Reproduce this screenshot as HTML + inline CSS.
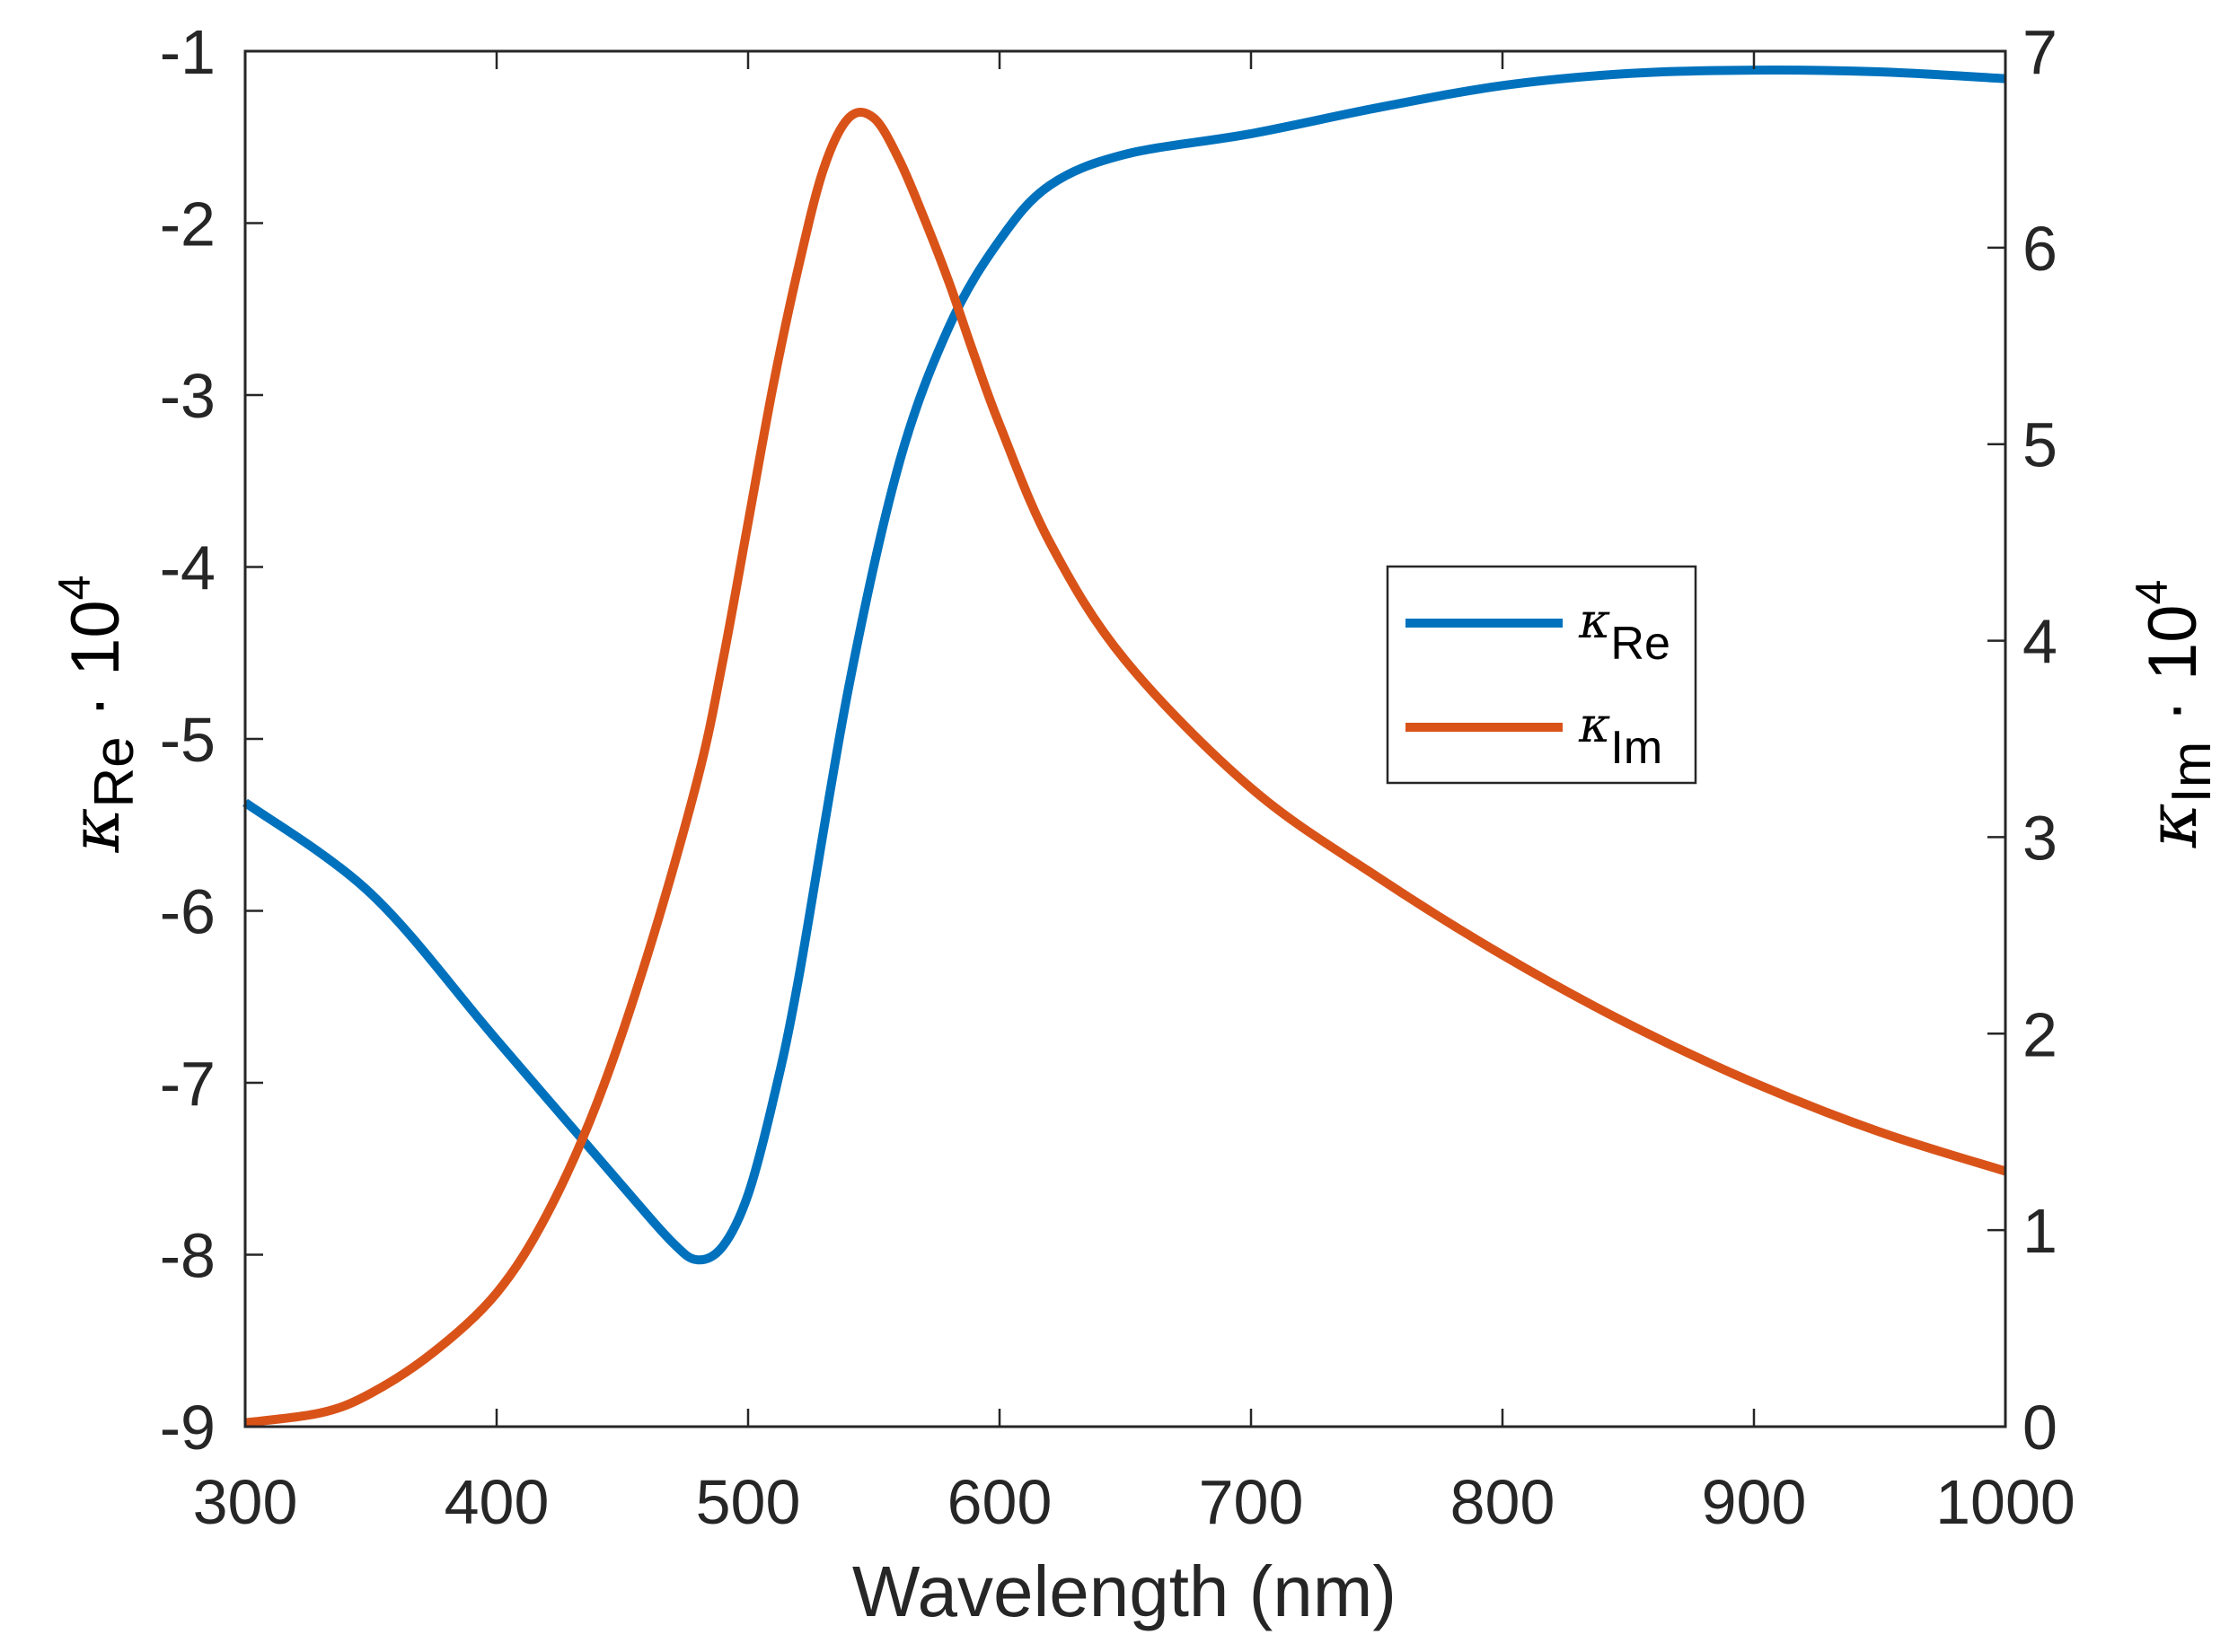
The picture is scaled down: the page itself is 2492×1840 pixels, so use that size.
<!DOCTYPE html>
<html><head><meta charset="utf-8"><style>
html,body{margin:0;padding:0;background:#fff;}
svg{display:block;font-family:"Liberation Sans",sans-serif;}
</style></head><body>
<svg id="s" width="2492" height="1840" xmlns="http://www.w3.org/2000/svg">
<rect width="2492" height="1840" fill="#fff"/>
<g id="curves"></g>
<rect x="273" y="57" width="1960" height="1532" fill="none" stroke="#262626" stroke-width="3"/>
<g id="ticks" stroke="#262626" stroke-width="2.5"></g>
<g id="labels" fill="#262626" font-size="70"></g>
<text x="1252" y="1800" font-size="80" text-anchor="middle" fill="#262626">Wavelength (nm)</text>
<text transform="translate(132,795) rotate(-90)" font-size="76" text-anchor="middle" fill="#000"><tspan font-style="italic" font-family="DejaVu Serif,serif">κ</tspan><tspan font-size="62" dy="16">Re</tspan><tspan dy="-16"> · 10</tspan><tspan font-size="50" dy="-32">4</tspan></text>
<text transform="translate(2445,795) rotate(-90)" font-size="76" text-anchor="middle" fill="#000"><tspan font-style="italic" font-family="DejaVu Serif,serif">κ</tspan><tspan font-size="62" dy="16">Im</tspan><tspan dy="-16"> · 10</tspan><tspan font-size="50" dy="-32">4</tspan></text>
<rect x="1545" y="631" width="343" height="241" fill="#fff" stroke="#262626" stroke-width="2.5"/>
<line x1="1565" y1="694" x2="1740" y2="694" stroke="#0072BD" stroke-width="10"/>
<line x1="1565" y1="810" x2="1740" y2="810" stroke="#D95319" stroke-width="10"/>
<text x="1758" y="710" font-size="54" fill="#000"><tspan font-style="italic" font-family="DejaVu Serif,serif">κ</tspan><tspan font-size="52" dy="24">Re</tspan></text>
<text x="1758" y="826" font-size="54" fill="#000"><tspan font-style="italic" font-family="DejaVu Serif,serif">κ</tspan><tspan font-size="52" dy="24">Im</tspan></text>
</svg>
<script>
var L=273,R=2233,T=57,B=1589;
function X(w){return L+(w-300)/700*(R-L);}
function YL(v){return T+(-1-v)*(B-T)/8;}
function YR(v){return B-v*(B-T)/7;}
var NS="http://www.w3.org/2000/svg";
function el(p,n,a,t){var e=document.createElementNS(NS,n);for(var k in a)e.setAttribute(k,a[k]);if(t!==undefined)e.textContent=t;p.appendChild(e);return e;}
var tk=document.getElementById('ticks'),lb=document.getElementById('labels');
for(var w=300;w<=1000;w+=100){var x=X(w);el(tk,'line',{x1:x,y1:B,x2:x,y2:B-20});el(tk,'line',{x1:x,y1:T,x2:x,y2:T+20});el(lb,'text',{x:x,y:1697,'text-anchor':'middle'},w);}
for(var v=-9;v<=-1;v++){var y=YL(v);el(tk,'line',{x1:L,y1:y,x2:L+20,y2:y});el(lb,'text',{x:240,y:y+25,'text-anchor':'end'},v);}
for(var v=0;v<=7;v++){var y=YR(v);el(tk,'line',{x1:R,y1:y,x2:R-20,y2:y});el(lb,'text',{x:2252,y:y+25,'text-anchor':'start'},v);}
function path(d,fy){var p=d.map(function(a){return [X(a[0]),fy(a[1])];});var s='M'+p[0][0]+','+p[0][1];
for(var i=0;i<p.length-1;i++){var p0=p[i-1]||p[i],p1=p[i],p2=p[i+1],p3=p[i+2]||p2;
s+=' C'+(p1[0]+(p2[0]-p0[0])/6)+','+(p1[1]+(p2[1]-p0[1])/6)+' '+(p2[0]-(p3[0]-p1[0])/6)+','+(p2[1]-(p3[1]-p1[1])/6)+' '+p2[0]+','+p2[1];}return s;}
var blue=[[300,-5.37],[350,-5.9],[400,-6.75],[450,-7.6],[470,-7.93],[480,-8.03],[490,-7.95],[500,-7.65],[510,-7.1],[520,-6.4],[540,-4.7],[560,-3.4],[580,-2.6],[600,-2.1],[620,-1.78],[650,-1.6],[700,-1.48],[750,-1.33],[800,-1.2],[850,-1.13],[900,-1.11],[950,-1.12],[1000,-1.16]];
var red=[[300,0.02],[330,0.07],[350,0.17],[375,0.38],[400,0.68],[420,1.08],[440,1.65],[460,2.4],[480,3.3],[490,3.9],[500,4.6],[510,5.3],[520,5.9],[530,6.4],[540,6.66],[550,6.66],[560,6.45],[570,6.15],[580,5.82],[590,5.45],[600,5.1],[620,4.5],[650,3.9],[700,3.25],[750,2.8],[800,2.4],[850,2.05],[900,1.75],[950,1.5],[1000,1.3]];
var c=document.getElementById('curves');
el(c,'path',{d:path(blue,YL),fill:'none',stroke:'#0072BD','stroke-width':10});
el(c,'path',{d:path(red,YR),fill:'none',stroke:'#D95319','stroke-width':10});
</script>
</body></html>
